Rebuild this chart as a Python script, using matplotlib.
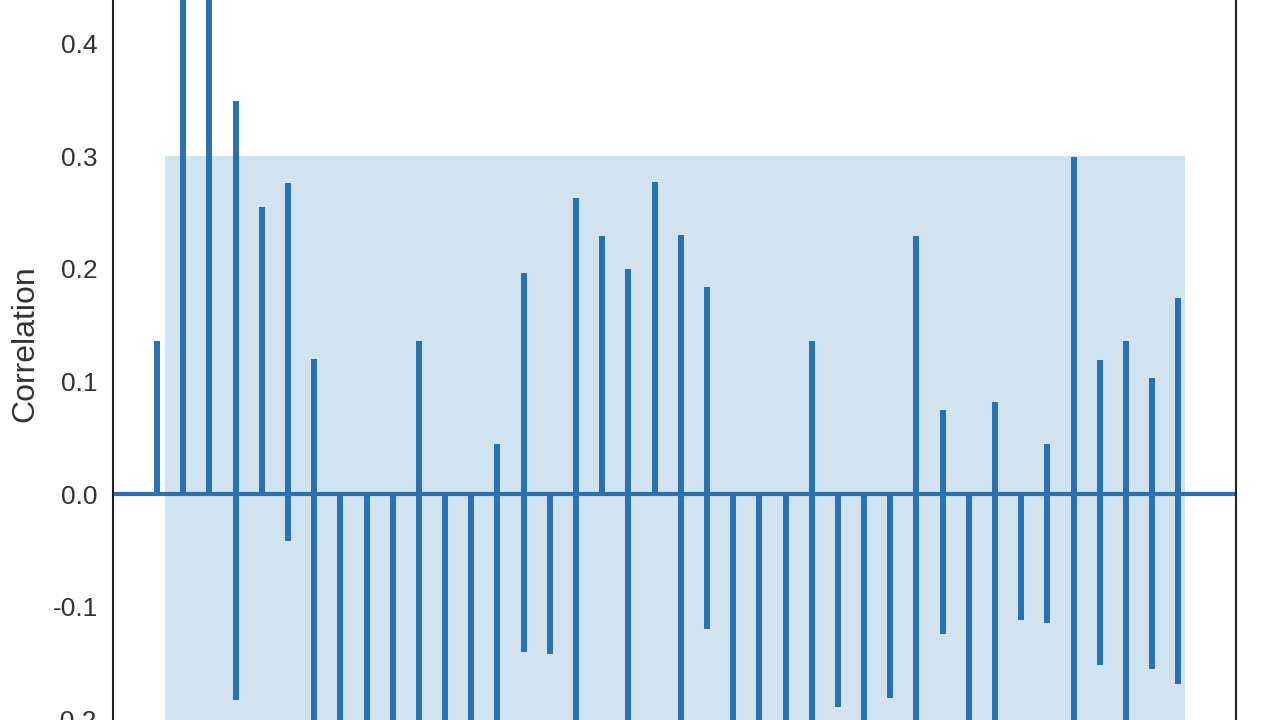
import matplotlib
matplotlib.use("Agg")
import matplotlib.pyplot as plt

# lag positions and the extent of each stem (low end, high end)
lags = list(range(1, 41))
stem_hi = [0.136, 0.50, 0.50, 0.349, 0.255, 0.276, 0.120, 0.0, 0.0, 0.0,
           0.136, 0.0, 0.0, 0.044, 0.196, 0.0, 0.263, 0.229, 0.200, 0.277,
           0.230, 0.184, 0.0, 0.0, 0.0, 0.136, 0.0, 0.0, 0.0, 0.229,
           0.075, 0.0, 0.082, 0.0, 0.044, 0.299, 0.119, 0.136, 0.103, 0.174]
stem_lo = [0.0, 0.0, 0.0, -0.183, 0.0, -0.042, -0.25, -0.25, -0.25, -0.25,
           -0.25, -0.25, -0.25, -0.25, -0.140, -0.142, -0.25, 0.0, -0.25, 0.0,
           -0.25, -0.120, -0.25, -0.25, -0.25, -0.25, -0.189, -0.25, -0.181, -0.25,
           -0.124, -0.25, -0.25, -0.112, -0.115, -0.25, -0.152, -0.25, -0.155, -0.169]

# confidence band
band_x = [1.31, 40.27]
band_lo = -0.3
band_hi = 0.3

yticks = [-0.2, -0.1, 0.0, 0.1, 0.2, 0.3, 0.4]
ytick_labels = ["-0.2", "-0.1", "0.0", "0.1", "0.2", "0.3", "0.4"]

blue = "#2a71b3"
text_col = "#333333"

fig = plt.figure(figsize=(12.8, 7.2), dpi=100)
ax = fig.add_axes([113 / 1280, 0, (1236 - 113) / 1280, 1])

ax.fill_between(band_x, band_lo, band_hi, color="#1f77b4", alpha=0.2,
                linewidth=0, zorder=1)
ax.vlines(lags, stem_lo, stem_hi, color=blue, linewidth=4.3, zorder=3)
ax.axhline(0, color=blue, linewidth=3, zorder=2)

ax.set_xlim(-0.68, 42.2)
ax.set_ylim(-0.2007, 0.4387)
ax.set_yticks(yticks)
ax.set_yticklabels(ytick_labels)
ax.set_xticks([])
ax.tick_params(axis="y", length=0, pad=11, labelsize=19, labelcolor=text_col)
for lab in ax.get_yticklabels():
    lab.set_fontfamily("Liberation Sans")

ax.spines["top"].set_visible(False)
ax.spines["bottom"].set_visible(False)
ax.spines["left"].set_color("#222222")
ax.spines["right"].set_color("#222222")
ax.spines["left"].set_linewidth(1.5)
ax.spines["right"].set_linewidth(1.5)

fig.text(25 / 1280, 1 - 344 / 720, "Correlation", rotation=90, ha="center",
         va="center", fontsize=23, color=text_col, family="Liberation Sans")

fig.savefig("out.png", dpi=100)
